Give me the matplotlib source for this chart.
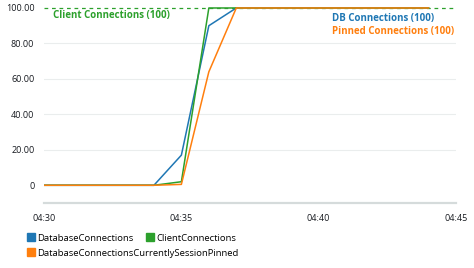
import datetime as dt
import matplotlib
matplotlib.use("Agg")
import matplotlib.pyplot as plt
import matplotlib.dates as mdates
from matplotlib.lines import Line2D

# minute samples 04:30 .. 04:44
t0 = dt.datetime(2021, 1, 1, 4, 30)
times = [t0 + dt.timedelta(minutes=m) for m in range(15)]
db_conn = [0, 0, 0, 0, 0, 17, 90, 100, 100, 100, 100, 100, 100, 100, 100]
client_conn = [0, 0, 0, 0, 0, 2, 100, 100, 100, 100, 100, 100, 100, 100, 100]
pinned_conn = [0, 0, 0, 0, 0, 0.5, 64, 100, 100, 100, 100, 100, 100, 100, 100]
threshold = 100

series_names = ["DatabaseConnections", "ClientConnections",
                "DatabaseConnectionsCurrentlySessionPinned"]
blue, green, orange = "#1f77b4", "#2ca02c", "#ff7f0e"

plt.rcParams['font.family'] = ['Open Sans', 'DejaVu Sans']
fig = plt.figure(figsize=(4.74, 2.68), dpi=100)
ax = fig.add_axes([0.093, 0.2425, 0.869, 0.7575])

ax.axhline(threshold, color=green, lw=0.9, ls=(0, (3, 3)), zorder=1)
ax.plot(times, db_conn, color=blue, lw=1.1, zorder=3)
ax.plot(times, client_conn, color=green, lw=1.1, zorder=3)
ax.plot(times, pinned_conn, color=orange, lw=1.1, zorder=3)

ax.set_xlim(t0, t0 + dt.timedelta(minutes=15))
ax.set_ylim(-10, 104.5)
ax.set_yticks([0, 20, 40, 60, 80, 100])
ax.set_yticklabels(["0", "20.00", "40.00", "60.00", "80.00", "100.00"])
ax.xaxis.set_major_locator(mdates.MinuteLocator(byminute=[30, 35, 40, 45]))
ax.xaxis.set_major_formatter(mdates.DateFormatter("%H:%M"))

for y in [20, 40, 60, 80]:
    ax.axhline(y, color="#eaeded", lw=0.8, zorder=0)

for s in ["top", "right", "left"]:
    ax.spines[s].set_visible(False)
ax.spines["bottom"].set_color("#d5dbdb")
ax.spines["bottom"].set_linewidth(1.6)
ax.tick_params(axis="both", length=0, labelsize=6.5, colors="#16191f")
ax.tick_params(axis="y", pad=7)
ax.tick_params(axis="x", pad=8)

ax.text(0.022, 0.926, "Client Connections (100)", transform=ax.transAxes,
        color=green, fontsize=7, fontweight="bold", va="center")
ax.text(0.70, 0.911, "DB Connections (100)", transform=ax.transAxes,
        color=blue, fontsize=7, fontweight="bold", va="center")
ax.text(0.70, 0.847, "Pinned Connections (100)", transform=ax.transAxes,
        color=orange, fontsize=7, fontweight="bold", va="center")

def handle(c):
    return Line2D([], [], marker="s", ls="", color=c, markersize=6)

leg1 = fig.legend([handle(blue), handle(green)], series_names[:2], ncol=2,
                  loc="upper left", bbox_to_anchor=(0.053, 0.128), frameon=False,
                  fontsize=6.8, handletextpad=0.1, columnspacing=1.1,
                  handlelength=1.2, borderaxespad=0, borderpad=0)
leg2 = fig.legend([handle(orange)], series_names[2:], loc="upper left",
                  bbox_to_anchor=(0.053, 0.072), frameon=False, fontsize=6.8,
                  handletextpad=0.1, handlelength=1.2,
                  borderaxespad=0, borderpad=0)

fig.savefig("out.png", dpi=100)
